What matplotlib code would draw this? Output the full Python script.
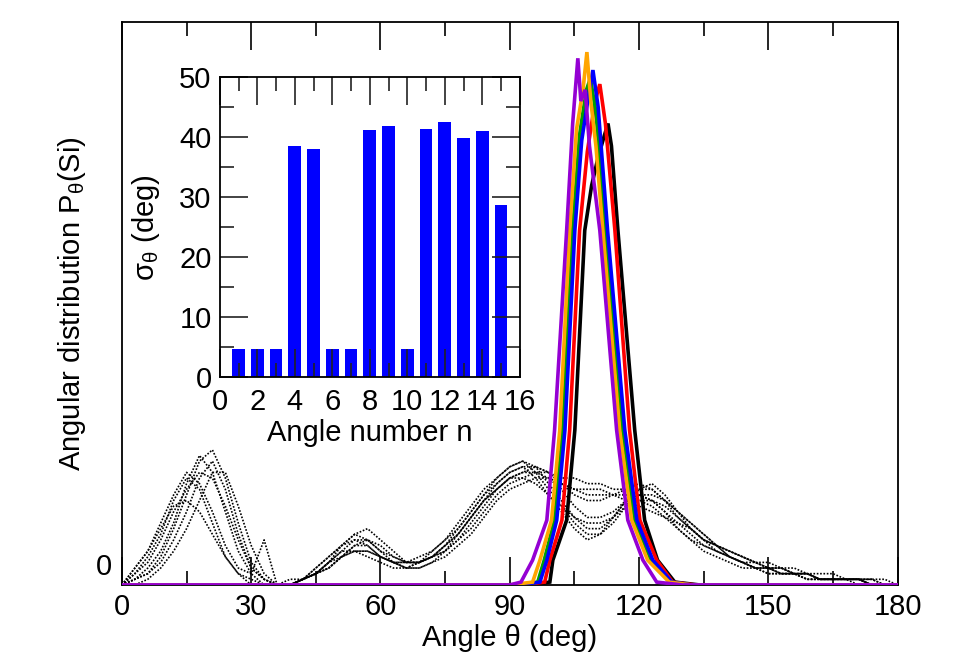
import matplotlib
matplotlib.use("Agg")
import matplotlib.pyplot as plt
from matplotlib.ticker import MultipleLocator
from matplotlib.transforms import ScaledTranslation

plt.rcParams['font.family'] = ['Liberation Sans', 'DejaVu Sans']
plt.rcParams['mathtext.fontset'] = 'custom'
plt.rcParams['mathtext.rm'] = 'Liberation Sans'
plt.rcParams['mathtext.it'] = 'Liberation Sans'

# ---------------- inset data ----------------
angle_number = [1, 2, 3, 4, 5, 6, 7, 8, 9, 10, 11, 12, 13, 14, 15]
sigma_deg = [4.7, 4.7, 4.7, 38.5, 38.0, 4.7, 4.7, 41.2, 41.9, 4.7, 41.3, 42.5, 39.8, 41.0, 28.7]

# ---------------- broad (dotted) distributions ----------------
theta_b = list(range(0, 181, 3))
broad_1 = [0, 0.02, 0.05, 0.09, 0.15, 0.19, 0.17, 0.11, 0.05, 0.02, 0.00, 0.00, 0.00, 0.00, 0.01, 0.02,
           0.04, 0.06, 0.06, 0.05, 0.04, 0.03, 0.03, 0.04, 0.05, 0.07, 0.09, 0.12, 0.15, 0.18, 0.20,
           0.21, 0.19, 0.16, 0.13, 0.10, 0.08, 0.09, 0.12, 0.15, 0.16, 0.15, 0.13, 0.10, 0.08, 0.06,
           0.05, 0.04, 0.03, 0.03, 0.02, 0.02, 0.02, 0.01, 0.01, 0.01, 0.01, 0.01, 0.00, 0.00, 0.00]
broad_2 = [0, 0.01, 0.03, 0.06, 0.11, 0.18, 0.23, 0.20, 0.13, 0.06, 0.02, 0.00, 0.00, 0.00, 0.01, 0.03,
           0.05, 0.07, 0.09, 0.08, 0.06, 0.04, 0.03, 0.04, 0.05, 0.06, 0.08, 0.10, 0.13, 0.16, 0.18,
           0.19, 0.20, 0.20, 0.19, 0.19, 0.18, 0.18, 0.17, 0.17, 0.16, 0.15, 0.13, 0.11, 0.09, 0.07,
           0.06, 0.05, 0.04, 0.03, 0.03, 0.02, 0.02, 0.02, 0.01, 0.01, 0.01, 0.01, 0.01, 0.00, 0.00]
broad_3 = [0, 0.01, 0.02, 0.04, 0.08, 0.13, 0.19, 0.22, 0.17, 0.09, 0.03, 0.01, 0.00, 0.00, 0.01, 0.02,
           0.04, 0.06, 0.08, 0.08, 0.06, 0.05, 0.04, 0.04, 0.06, 0.08, 0.11, 0.14, 0.17, 0.19, 0.21,
           0.22, 0.20, 0.17, 0.14, 0.11, 0.09, 0.09, 0.11, 0.14, 0.17, 0.18, 0.16, 0.13, 0.10, 0.08,
           0.06, 0.05, 0.04, 0.03, 0.03, 0.02, 0.02, 0.01, 0.01, 0.01, 0.01, 0.00, 0.00, 0.00, 0.00]
broad_4 = [0, 0.03, 0.06, 0.11, 0.16, 0.20, 0.18, 0.13, 0.07, 0.03, 0.02, 0.08, 0.00, 0.00, 0.01, 0.02,
           0.03, 0.05, 0.07, 0.07, 0.05, 0.04, 0.03, 0.03, 0.04, 0.06, 0.08, 0.11, 0.14, 0.17, 0.19,
           0.20, 0.21, 0.20, 0.18, 0.17, 0.16, 0.16, 0.16, 0.16, 0.15, 0.14, 0.12, 0.10, 0.08, 0.07,
           0.06, 0.05, 0.04, 0.03, 0.03, 0.03, 0.02, 0.02, 0.01, 0.01, 0.01, 0.01, 0.00, 0.00, 0.00]
broad_5 = [0, 0.01, 0.02, 0.05, 0.10, 0.16, 0.22, 0.24, 0.19, 0.11, 0.04, 0.01, 0.00, 0.00, 0.01, 0.02,
           0.04, 0.07, 0.09, 0.10, 0.08, 0.06, 0.04, 0.04, 0.05, 0.07, 0.10, 0.13, 0.16, 0.19, 0.21,
           0.22, 0.21, 0.18, 0.15, 0.12, 0.10, 0.10, 0.12, 0.15, 0.17, 0.17, 0.15, 0.12, 0.10, 0.08,
           0.07, 0.05, 0.04, 0.03, 0.02, 0.02, 0.02, 0.01, 0.01, 0.01, 0.01, 0.01, 0.00, 0.00, 0.00]
broad_6 = [0, 0.02, 0.04, 0.08, 0.13, 0.17, 0.20, 0.19, 0.14, 0.08, 0.03, 0.01, 0.00, 0.01, 0.01, 0.03,
           0.05, 0.07, 0.08, 0.07, 0.05, 0.04, 0.03, 0.03, 0.04, 0.05, 0.07, 0.09, 0.12, 0.15, 0.17,
           0.18, 0.19, 0.19, 0.18, 0.17, 0.17, 0.17, 0.16, 0.15, 0.14, 0.13, 0.12, 0.11, 0.10, 0.08,
           0.07, 0.06, 0.05, 0.04, 0.04, 0.03, 0.03, 0.02, 0.02, 0.02, 0.01, 0.01, 0.01, 0.01, 0.00]
broad_7 = [0, 0.00, 0.00, 0.00, 0.00, 0.00, 0.00, 0.00, 0.00, 0.00, 0.00, 0.00, 0.00, 0.00, 0.01, 0.02,
           0.03, 0.05, 0.06, 0.06, 0.05, 0.04, 0.04, 0.05, 0.06, 0.08, 0.10, 0.13, 0.16, 0.18, 0.20,
           0.21, 0.21, 0.20, 0.18, 0.16, 0.15, 0.15, 0.16, 0.17, 0.18, 0.17, 0.15, 0.13, 0.11, 0.09,
           0.07, 0.06, 0.05, 0.04, 0.03, 0.03, 0.02, 0.02, 0.01, 0.01, 0.01, 0.01, 0.01, 0.00, 0.00]
broad_8 = [0, 0.00, 0.01, 0.03, 0.06, 0.10, 0.15, 0.20, 0.20, 0.14, 0.07, 0.02, 0.00, 0.00, 0.01, 0.02,
           0.03, 0.05, 0.07, 0.08, 0.07, 0.05, 0.04, 0.04, 0.05, 0.06, 0.09, 0.12, 0.15, 0.17, 0.19,
           0.20, 0.20, 0.19, 0.17, 0.14, 0.12, 0.12, 0.13, 0.15, 0.16, 0.16, 0.15, 0.13, 0.11, 0.09,
           0.07, 0.06, 0.05, 0.04, 0.03, 0.03, 0.02, 0.02, 0.01, 0.01, 0.01, 0.01, 0.00, 0.00, 0.00]
broad_9 = [0, 0.03, 0.06, 0.10, 0.14, 0.15, 0.13, 0.09, 0.05, 0.02, 0.01, 0.00, 0.00, 0.00, 0.01, 0.02,
           0.04, 0.05, 0.06, 0.06, 0.05, 0.04, 0.04, 0.04, 0.05, 0.07, 0.09, 0.12, 0.15, 0.17, 0.19,
           0.19, 0.18, 0.16, 0.14, 0.12, 0.11, 0.11, 0.12, 0.14, 0.15, 0.15, 0.14, 0.12, 0.10, 0.08,
           0.07, 0.05, 0.04, 0.04, 0.03, 0.02, 0.02, 0.02, 0.01, 0.01, 0.01, 0.01, 0.00, 0.00, 0.00]
broad_curves = [broad_1, broad_2, broad_3, broad_4, broad_5, broad_6, broad_7, broad_8, broad_9]

# ---------------- narrow (colored) distributions ----------------
theta_black = [0, 94, 99.3, 100.0, 103.2, 105.1, 107.4, 109.0, 110.5, 112.0, 112.8, 113.6, 115.1, 119.0, 121.3, 124.3, 128.3, 134, 180]
p_black = [0, 0, 0.005, 0.044, 0.115, 0.275, 0.63, 0.71, 0.76, 0.80, 0.82, 0.78, 0.63, 0.275, 0.115, 0.044, 0.005, 0, 0]
theta_red = [0, 93, 98.1, 99.3, 102.1, 103.9, 106.2, 108.0, 109.8, 110.9, 112.2, 114.4, 117.8, 120.2, 124.1, 127.8, 133, 180]
p_red = [0, 0, 0.005, 0.044, 0.115, 0.275, 0.63, 0.77, 0.86, 0.89, 0.82, 0.63, 0.275, 0.115, 0.044, 0.005, 0, 0]
theta_green = [0, 92, 96.5, 98.0, 100.4, 102.3, 104.6, 106.2, 107.8, 108.7, 110.0, 112.2, 116.2, 119.0, 122.8, 127.4, 132, 180]
p_green = [0, 0, 0.005, 0.044, 0.115, 0.275, 0.63, 0.80, 0.88, 0.90, 0.84, 0.63, 0.275, 0.115, 0.044, 0.005, 0, 0]
theta_blue = [0, 92, 97.0, 98.6, 100.9, 102.8, 105.1, 106.7, 108.3, 109.3, 110.5, 112.7, 116.7, 119.5, 123.2, 127.6, 132, 180]
p_blue = [0, 0, 0.005, 0.044, 0.115, 0.275, 0.63, 0.79, 0.87, 0.915, 0.85, 0.63, 0.275, 0.115, 0.044, 0.005, 0, 0]
theta_orange = [0, 90, 95.3, 97.0, 99.7, 101.6, 103.9, 105.5, 107.0, 107.9, 108.8, 110.0, 111.6, 115.5, 118.3, 122.0, 127, 132, 180]
p_orange = [0, 0, 0.005, 0.044, 0.115, 0.275, 0.63, 0.81, 0.88, 0.947, 0.86, 0.78, 0.63, 0.275, 0.115, 0.044, 0.005, 0, 0]
theta_purple = [0, 90, 92.6, 95.3, 98.6, 100.4, 103.2, 104.6, 105.8, 106.5, 107.5, 108.5, 110.9, 114.8, 117.4, 120.9, 124.1, 130, 180]
p_purple = [0, 0, 0.005, 0.044, 0.115, 0.275, 0.63, 0.82, 0.936, 0.86, 0.88, 0.78, 0.63, 0.275, 0.115, 0.044, 0.005, 0, 0]

narrow = [(theta_black, p_black, '#000000'),
          (theta_red, p_red, '#ff0000'),
          (theta_green, p_green, '#00a000'),
          (theta_blue, p_blue, '#0000ff'),
          (theta_orange, p_orange, '#ffa500'),
          (theta_purple, p_purple, '#9400d3')]

main_xticks = [0, 30, 60, 90, 120, 150, 180]

# ---------------- figure ----------------
fig = plt.figure(figsize=(9.6, 6.55), dpi=100)
ax = fig.add_axes([0.127, 0.107, 0.808, 0.859])

for ys in broad_curves:
    ax.plot(theta_b, ys, color='black', lw=1.2, linestyle=(0, (1, 1.0)), zorder=2)
for th, ys, c in narrow:
    ax.plot(th, ys, color=c, lw=2.6, zorder=3, solid_joinstyle='miter')

ax.set_xlim(0, 180)
ax.set_ylim(0, 1.0)
ax.set_xticks(main_xticks)
ax.xaxis.set_minor_locator(MultipleLocator(15))
ax.set_yticks([0])
ax.tick_params(axis='x', which='both', direction='in', top=True, bottom=True,
               labelsize=21, width=1.2, pad=6)
ax.tick_params(axis='x', which='major', length=20)
ax.tick_params(axis='x', which='minor', length=10)
ax.tick_params(axis='y', which='both', length=0, labelsize=21, pad=7)
# raise the lone "0" label slightly above the baseline, as in the original
for lab in ax.get_yticklabels():
    lab.set_transform(lab.get_transform() + ScaledTranslation(0, 15 / 72, fig.dpi_scale_trans))
for s in ax.spines.values():
    s.set_linewidth(1.3)
ax.set_xlabel('Angle θ (deg)', fontsize=21, labelpad=2)
ax.set_ylabel('Angular distribution P$_{\\mathrm{θ}}$(Si)', fontsize=21, labelpad=6)

# ---------------- inset ----------------
axi = fig.add_axes([0.229, 0.424, 0.3125, 0.458])
axi.bar(angle_number, sigma_deg, width=0.68, color='#0000ff', zorder=1)
axi.set_xlim(0, 16)
axi.set_ylim(0, 50)
axi.set_xticks(list(range(0, 17, 2)))
axi.set_yticks(list(range(0, 51, 10)))
axi.xaxis.set_minor_locator(MultipleLocator(1))
axi.yaxis.set_minor_locator(MultipleLocator(5))
axi.tick_params(which='both', direction='in', top=True, right=True,
                labelsize=21, width=1.2, color='#222222')
axi.tick_params(which='major', length=20)
axi.tick_params(which='minor', length=10)
axi.tick_params(axis='x', pad=8)
axi.tick_params(axis='y', pad=6)
for s in axi.spines.values():
    s.set_linewidth(1.3)
axi.set_xlabel('Angle number n', fontsize=21, labelpad=2)
axi.set_ylabel('σ$_{\\mathrm{θ}}$ (deg)', fontsize=21, labelpad=12)

fig.savefig('out.png', dpi=100)
